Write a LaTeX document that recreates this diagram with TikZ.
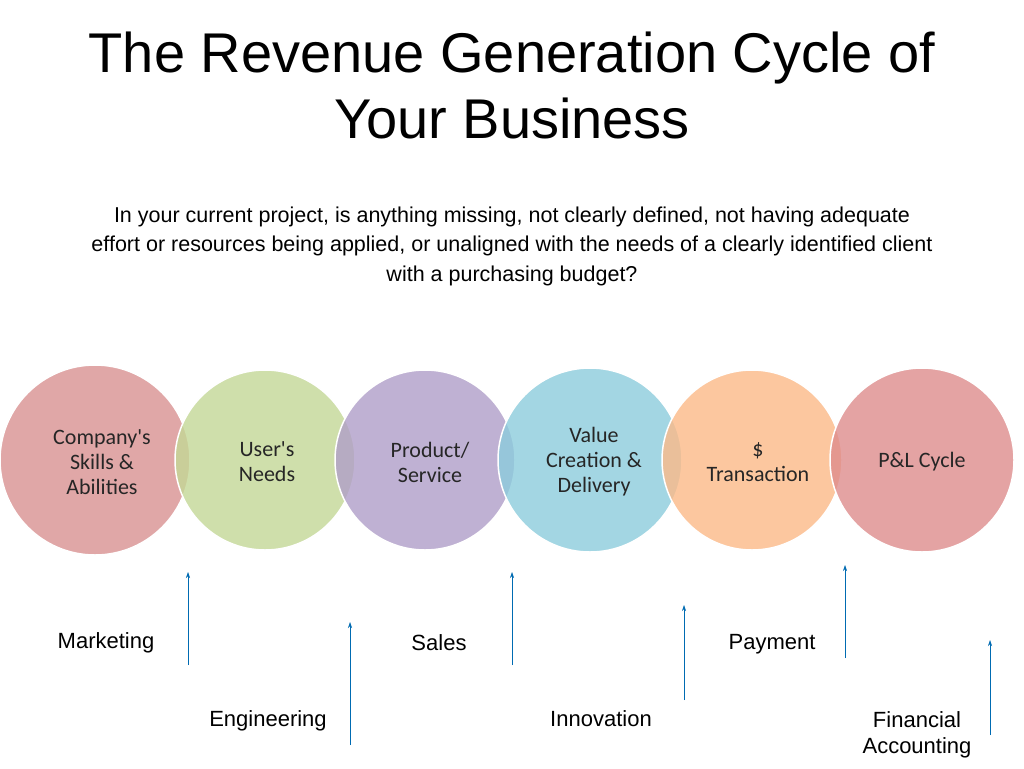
\documentclass[tikz,border=0pt]{standalone}
\usepackage{fontspec}
\usetikzlibrary{arrows.meta}
\setmainfont{Liberation Sans}
\newfontfamily\carlitofont{Carlito}
\begin{document}
\begin{tikzpicture}[x=1pt,y=-1pt,
  circ/.style={fill=#1,fill opacity=0.8,draw=white,line width=1.5pt},
  ctext/.style={font=\carlitofont\fontsize{22}{25}\selectfont,align=center,text=black!85},
  lab/.style={font=\fontsize{22}{26}\selectfont,align=center},
  arr/.style={-{Stealth[length=6pt,width=4pt]},draw=blue!40!cyan!70!black,line width=0.6pt}]
\useasboundingbox (0,0) rectangle (1024,768);
\fill[white] (0,0) rectangle (1024,768);
\node[font=\fontsize{56}{66}\selectfont,align=center] (title) at (512,85) {The Revenue Generation Cycle of\\Your Business};
\node[font=\fontsize{21.5}{29.5}\selectfont,align=center] (sub) at (512,246) {In your current project, is anything missing, not clearly defined, not having adequate\\effort or resources being applied, or unaligned with the needs of a clearly identified client\\with a purchasing budget?};
\definecolor{c1}{RGB}{217,145,145}
\definecolor{c2}{RGB}{196,216,150}
\definecolor{c3}{RGB}{176,158,200}
\definecolor{c4}{RGB}{140,204,220}
\definecolor{c5}{RGB}{252,186,136}
\definecolor{c6}{RGB}{222,140,140}
\path[circ=c1] (95,460) circle (95);
\path[circ=c2] (265,460) circle (90);
\path[circ=c3] (425,460) circle (90);
\path[circ=c4] (590,460) circle (92);
\path[circ=c5] (752,460) circle (90);
\path[circ=c6] (922,460) circle (92);
\node[ctext] (t1) at (102,462) {Company's\\Skills \&\\Abilities};
\node[ctext] (t2) at (267,462) {User's\\Needs};
\node[ctext] (t3) at (430,462) {Product/\\Service};
\node[ctext] (t4) at (594,462) {Value\\Creation \&\\Delivery};
\node[ctext] (t5) at (758,462) {\$\\Transaction};
\node[ctext] (t6) at (922,462) {P\&L Cycle};
\node[lab] (l1) at (106,643) {Marketing};
\node[lab] (l2) at (268,721) {Engineering};
\node[lab] (l3) at (439,643) {Sales};
\node[lab] (l4) at (601,719) {Innovation};
\node[lab] (l5) at (772,644) {Payment};
\node[lab] (l6) at (917,735) {Financial\\Accounting};
\coordinate (a1s) at (188,665); \coordinate (a1e) at (188,572);
\coordinate (a2s) at (350,745); \coordinate (a2e) at (350,622);
\coordinate (a3s) at (512,665); \coordinate (a3e) at (512,572);
\coordinate (a4s) at (684,700); \coordinate (a4e) at (684,605);
\coordinate (a5s) at (845,658); \coordinate (a5e) at (845,565);
\coordinate (a6s) at (990,735); \coordinate (a6e) at (990,640);
\foreach \i in {1,...,6} \draw[arr] (a\i s) -- (a\i e);
\end{tikzpicture}
\end{document}
